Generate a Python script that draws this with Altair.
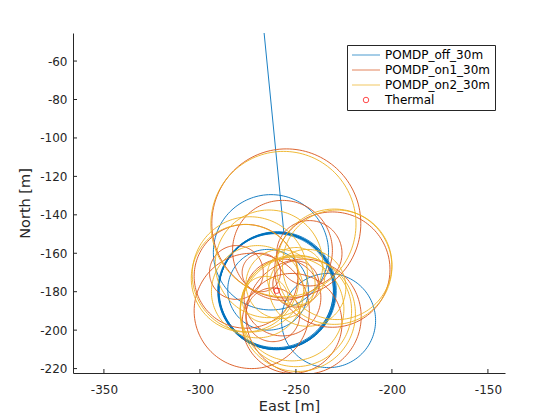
import math
import altair as alt
import pandas as pd

# ---------------- data ----------------
SERIES = ["POMDP_off_30m", "POMDP_on1_30m", "POMDP_on2_30m", "Thermal"]
COLORS = ["#0072BD", "#D95319", "#EDB120", "#FF0000"]

# straight approach leg of the POMDP_off trajectory
OFF_LINE_X = [-266.7, -256.2]
OFF_LINE_Y = [-44.0, -150.0]

# loops of POMDP_off (centre x, centre y, radius)
OFF_CX = [-260.2, -259.8, -260.5, -259.6, -260.0, -260.3, -259.9, -260.1, -263.0, -233.0, -264.5]
OFF_CY = [-179.6, -179.3, -179.8, -179.4, -179.9, -179.2, -179.7, -179.5, -159.5, -195.0, -179.0]
OFF_R = [30.5, 30.2, 30.0, 30.6, 30.3, 29.9, 30.4, 30.1, 30.0, 24.5, 21.0]

# loops of POMDP_on1
ON1_CX = [-255.0, -231.0, -257.0, -273.0, -246.0, -252.0, -276.0, -243.0, -268.0, -250.0, -262.0, -281.0, -257.0]
ON1_CY = [-144.5, -168.5, -158.5, -190.0, -193.0, -196.5, -172.0, -160.0, -170.0, -176.0, -192.0, -170.0, -183.0]
ON1_R = [38.8, 30.0, 26.0, 30.0, 30.0, 26.0, 27.0, 17.0, 10.0, 12.0, 14.0, 14.0, 20.0]

# loops of POMDP_on2
ON2_CX = [-256.5, -230.0, -228.5, -274.0, -276.5, -250.0, -249.0, -252.0, -264.0, -250.0, -266.0, -258.0, -244.0, -270.0]
ON2_CY = [-144.8, -167.0, -166.0, -171.0, -173.0, -190.0, -191.5, -189.0, -165.5, -172.0, -184.0, -176.0, -178.0, -180.0]
ON2_R = [37.8, 30.0, 28.5, 30.0, 28.0, 29.0, 30.0, 27.0, 28.0, 15.0, 12.0, 18.0, 20.0, 24.0]

THERMAL_X = [-260.0]
THERMAL_Y = [-179.5]

X_TICKS = [-350, -300, -250, -200, -150]
Y_TICKS = [-220, -200, -180, -160, -140, -120, -100, -80, -60]
X_DOMAIN = [-366.1, -141.1]
Y_DOMAIN = [-222.3, -45.4]

# ---------------- build tables ----------------
N = 144


def loops(series, cx, cy, r):
    rows = []
    for k, (x0, y0, rr) in enumerate(zip(cx, cy, r)):
        for i in range(N + 1):
            t = 2 * math.pi * i / N
            rows.append({"series": series, "path": f"{series}-{k}", "i": i,
                         "x": x0 + rr * math.cos(t), "y": y0 + rr * math.sin(t)})
    return rows


off_rows = [{"series": SERIES[0], "path": "approach", "i": i, "x": x, "y": y}
            for i, (x, y) in enumerate(zip(OFF_LINE_X, OFF_LINE_Y))]
off_df = pd.DataFrame(off_rows + loops(SERIES[0], OFF_CX, OFF_CY, OFF_R))
on1_df = pd.DataFrame(loops(SERIES[1], ON1_CX, ON1_CY, ON1_R))
on2_df = pd.DataFrame(loops(SERIES[2], ON2_CX, ON2_CY, ON2_R))
th_df = pd.DataFrame({"series": [SERIES[3]], "x": THERMAL_X, "y": THERMAL_Y})
xt_df = pd.DataFrame({"v": X_TICKS})
yt_df = pd.DataFrame({"v": Y_TICKS})

W, H = 432, 340
FONT = "DejaVu Sans"
INK = "#262626"

xscale = alt.Scale(domain=X_DOMAIN, nice=False, zero=False)
yscale = alt.Scale(domain=Y_DOMAIN, nice=False, zero=False)
cscale = alt.Scale(domain=SERIES, range=COLORS)
LINE_SYMBOL = "M-2.8,0H2.8"

main_x = alt.Axis(values=X_TICKS, ticks=False, tickSize=0, grid=False, labelExpr="datum.value + ''",
                  title="East [m]", domainColor=INK, domainWidth=1, labelFont=FONT, labelFontSize=12,
                  labelColor=INK, labelPadding=11, titleFont=FONT, titleFontSize=14.5,
                  titleFontWeight="normal", titleColor=INK, titlePadding=4)
main_y = alt.Axis(values=Y_TICKS, ticks=False, tickSize=0, grid=False, labelExpr="datum.value + ''",
                  title="North [m]", domainColor=INK, domainWidth=1, labelFont=FONT, labelFontSize=12,
                  labelColor=INK, labelPadding=6, titleFont=FONT, titleFontSize=14.5,
                  titleFontWeight="normal", titleColor=INK, titlePadding=7)

legend = alt.Legend(orient="none", legendX=274, legendY=12, title=None,
                    strokeColor=INK, fillColor="white", padding=4, cornerRadius=0,
                    labelFont=FONT, labelFontSize=12, labelColor="#000000", labelOffset=13,
                    symbolOffset=9, rowPadding=3, symbolStrokeWidth=1)


def line_layer(df):
    return alt.Chart(df).mark_line(strokeWidth=0.9, clip=True).encode(
        x=alt.X("x:Q", scale=xscale, axis=main_x),
        y=alt.Y("y:Q", scale=yscale, axis=main_y),
        color=alt.Color("series:N", scale=cscale, legend=legend),
        detail="path:N",
        order="i:Q",
    )


thermal = alt.Chart(th_df).mark_point(filled=False, strokeWidth=1, clip=True).encode(
    x=alt.X("x:Q", scale=xscale, axis=main_x),
    y=alt.Y("y:Q", scale=yscale, axis=main_y),
    color=alt.Color("series:N", scale=cscale, legend=legend),
    shape=alt.Shape("series:N", scale=alt.Scale(domain=SERIES, range=[LINE_SYMBOL] * 3 + ["circle"]),
                    legend=legend),
    size=alt.Size("series:N", scale=alt.Scale(type="ordinal", domain=SERIES, range=[100, 100, 100, 30]),
                  legend=legend),
)

# inward-pointing tick marks (MATLAB style)
xticks = alt.Chart(xt_df).mark_rule(color=INK, strokeWidth=1).encode(
    x=alt.X("v:Q", scale=xscale, axis=main_x), y=alt.value(H), y2=alt.value(H - 4))
yticks = alt.Chart(yt_df).mark_rule(color=INK, strokeWidth=1).encode(
    y=alt.Y("v:Q", scale=yscale, axis=main_y), x=alt.value(0), x2=alt.value(4))

chart = alt.layer(
    line_layer(off_df),
    line_layer(on1_df),
    line_layer(on2_df),
    thermal,
    xticks,
    yticks,
).properties(
    width=W, height=H,
    padding={"left": 65, "top": 25, "right": 40, "bottom": 45},
    autosize=alt.AutoSizeParams(type="none"),
    background="white",
).configure_view(stroke=None)

chart.save("out.html", embed_options={"renderer": "svg", "actions": False})
